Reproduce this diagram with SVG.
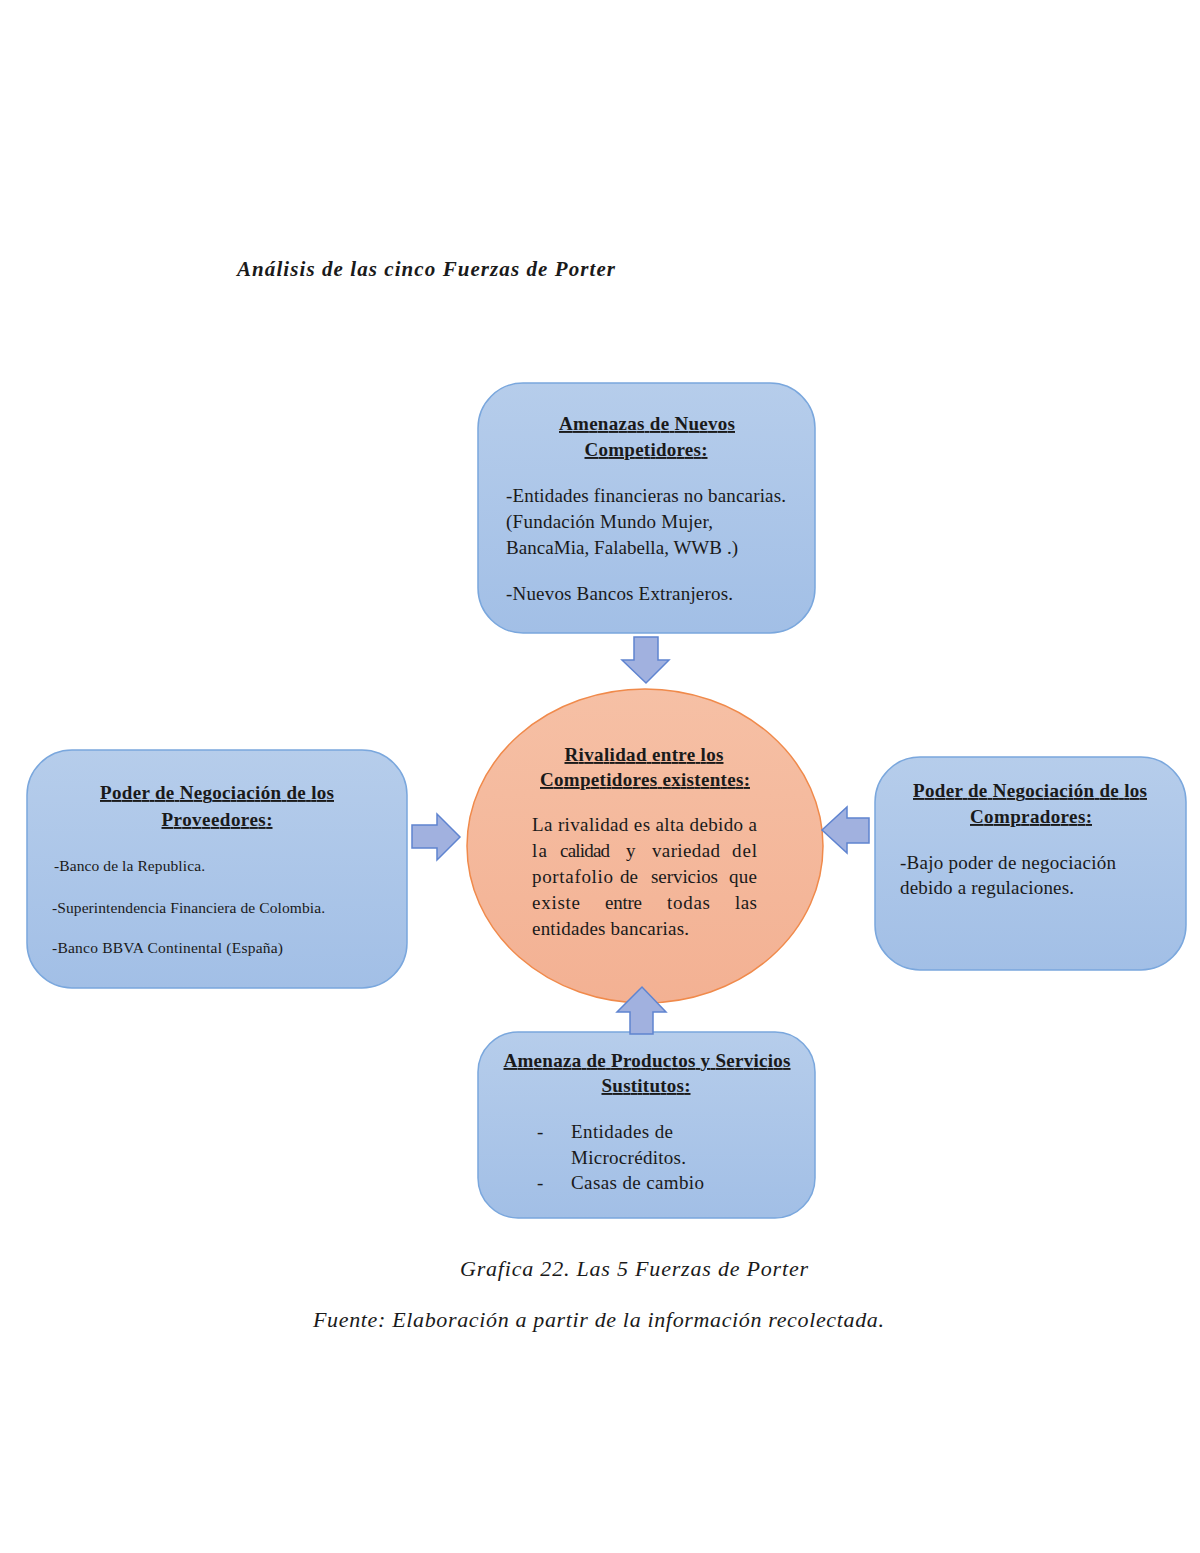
<svg xmlns="http://www.w3.org/2000/svg" width="1200" height="1553" viewBox="0 0 1200 1553">
<defs>
<linearGradient id="gb" x1="0" y1="0" x2="0" y2="1">
<stop offset="0" stop-color="#b6cdeb"/>
<stop offset="1" stop-color="#a2bfe6"/>
</linearGradient>
<linearGradient id="go" x1="0" y1="0" x2="0" y2="1">
<stop offset="0" stop-color="#f6c0a5"/>
<stop offset="1" stop-color="#f3b193"/>
</linearGradient>
<style>
.box{fill:url(#gb);stroke:#7aa7dd;stroke-width:1.5}
.circ{fill:url(#go);stroke:#f08a4b;stroke-width:1.5}
.arr{fill:#a1b1df;stroke:#5f84d0;stroke-width:1.5;stroke-linejoin:miter}
text{font-family:"Liberation Serif","Times New Roman",serif;fill:#1a1a1a}
.h{font-size:19px;font-weight:bold;text-decoration:underline;text-anchor:middle}
.b{font-size:19px}
.s{font-size:15.5px}
.t{font-size:21px;font-weight:bold;font-style:italic}
.c{font-size:22px;font-style:italic}
</style>
</defs>
<rect width="1200" height="1553" fill="#ffffff"/>
<text class="t" x="237" y="276" textLength="378" lengthAdjust="spacing">Análisis de las cinco  Fuerzas de Porter</text>

<g id="top">
<rect class="box" x="478" y="383" width="337" height="250" rx="45" ry="45"/>
<text class="h" x="647" y="430" textLength="176" lengthAdjust="spacing">Amenazas de Nuevos</text>
<text class="h" x="646" y="456" textLength="123" lengthAdjust="spacing">Competidores:</text>
<text class="b" x="506" y="502" textLength="280" lengthAdjust="spacing">-Entidades financieras no bancarias.</text>
<text class="b" x="506" y="528" textLength="207" lengthAdjust="spacing">(Fundación Mundo Mujer,</text>
<text class="b" x="506" y="554" textLength="232" lengthAdjust="spacing">BancaMia, Falabella, WWB .)</text>
<text class="b" x="506" y="600" textLength="227" lengthAdjust="spacing">-Nuevos Bancos Extranjeros.</text>
</g>

<g id="left">
<rect class="box" x="27" y="750" width="380" height="238" rx="45" ry="45"/>
<text class="h" x="217" y="799" textLength="234" lengthAdjust="spacing">Poder de Negociación de los</text>
<text class="h" x="217" y="826" textLength="111" lengthAdjust="spacing">Proveedores:</text>
<text class="s" x="54" y="871" textLength="151" lengthAdjust="spacing">-Banco de la Republica.</text>
<text class="s" x="52" y="913" textLength="273" lengthAdjust="spacing">-Superintendencia Financiera de Colombia.</text>
<text class="s" x="52" y="953" textLength="231" lengthAdjust="spacing">-Banco BBVA Continental (España)</text>
</g>

<g id="right">
<rect class="box" x="875" y="757" width="311" height="213" rx="45" ry="45"/>
<text class="h" x="1030" y="797" textLength="234" lengthAdjust="spacing">Poder de Negociación de los</text>
<text class="h" x="1031" y="823" textLength="122" lengthAdjust="spacing">Compradores:</text>
<text class="b" x="900" y="869" textLength="216" lengthAdjust="spacing">-Bajo poder de negociación</text>
<text class="b" x="900" y="894" textLength="174" lengthAdjust="spacing">debido a regulaciones.</text>
</g>

<g id="center">
<ellipse class="circ" cx="645" cy="846" rx="178" ry="157"/>
<text class="h" x="644" y="761" textLength="159" lengthAdjust="spacing">Rivalidad entre los</text>
<text class="h" x="645" y="786" textLength="210" lengthAdjust="spacing">Competidores existentes:</text>
<text class="b" x="532" y="831" textLength="225" lengthAdjust="spacing">La rivalidad es alta debido a</text>
<text class="b" x="532" y="857" textLength="15" lengthAdjust="spacing">la</text>
<text class="b" x="560" y="857" textLength="50" lengthAdjust="spacing">calidad</text>
<text class="b" x="626" y="857" textLength="12" lengthAdjust="spacing">y</text>
<text class="b" x="652" y="857" textLength="68" lengthAdjust="spacing">variedad</text>
<text class="b" x="732" y="857" textLength="25" lengthAdjust="spacing">del</text>
<text class="b" x="532" y="883" textLength="81" lengthAdjust="spacing">portafolio</text>
<text class="b" x="620" y="883" textLength="18" lengthAdjust="spacing">de</text>
<text class="b" x="651" y="883" textLength="67" lengthAdjust="spacing">servicios</text>
<text class="b" x="729" y="883" textLength="28" lengthAdjust="spacing">que</text>
<text class="b" x="532" y="909" textLength="48" lengthAdjust="spacing">existe</text>
<text class="b" x="605" y="909" textLength="37" lengthAdjust="spacing">entre</text>
<text class="b" x="667" y="909" textLength="43" lengthAdjust="spacing">todas</text>
<text class="b" x="735" y="909" textLength="22" lengthAdjust="spacing">las</text>
<text class="b" x="532" y="935" textLength="157" lengthAdjust="spacing">entidades bancarias.</text>
</g>

<g id="bottom">
<rect class="box" x="478" y="1032" width="337" height="186" rx="40" ry="40"/>
<text class="h" x="647" y="1067" textLength="287" lengthAdjust="spacing">Amenaza de Productos y Servicios</text>
<text class="h" x="646" y="1092" textLength="89" lengthAdjust="spacing">Sustitutos:</text>
<text class="b" x="537" y="1138">-</text>
<text class="b" x="571" y="1138" textLength="102" lengthAdjust="spacing">Entidades de</text>
<text class="b" x="571" y="1164" textLength="115" lengthAdjust="spacing">Microcréditos.</text>
<text class="b" x="537" y="1189">-</text>
<text class="b" x="571" y="1189" textLength="133" lengthAdjust="spacing">Casas de cambio</text>
</g>

<g id="connectors">
<polygon class="arr" points="634,637 658,637 658,660 669,660 646,683 622,660 634,660"/>
<polygon class="arr" points="412,825 437,825 437,814 460,837 437,860 437,848 412,848"/>
<polygon class="arr" points="869,818 847,818 847,807 822,830 847,853 847,843 869,843"/>
<polygon class="arr" points="630,1034 653,1034 653,1012 666,1012 642,987 617,1012 630,1012"/>
</g>

<text class="c" x="460" y="1276" textLength="348" lengthAdjust="spacing">Grafica 22.  Las 5 Fuerzas de Porter</text>
<text class="c" x="313" y="1327" textLength="571" lengthAdjust="spacing">Fuente: Elaboración a partir de la información recolectada.</text>
</svg>
